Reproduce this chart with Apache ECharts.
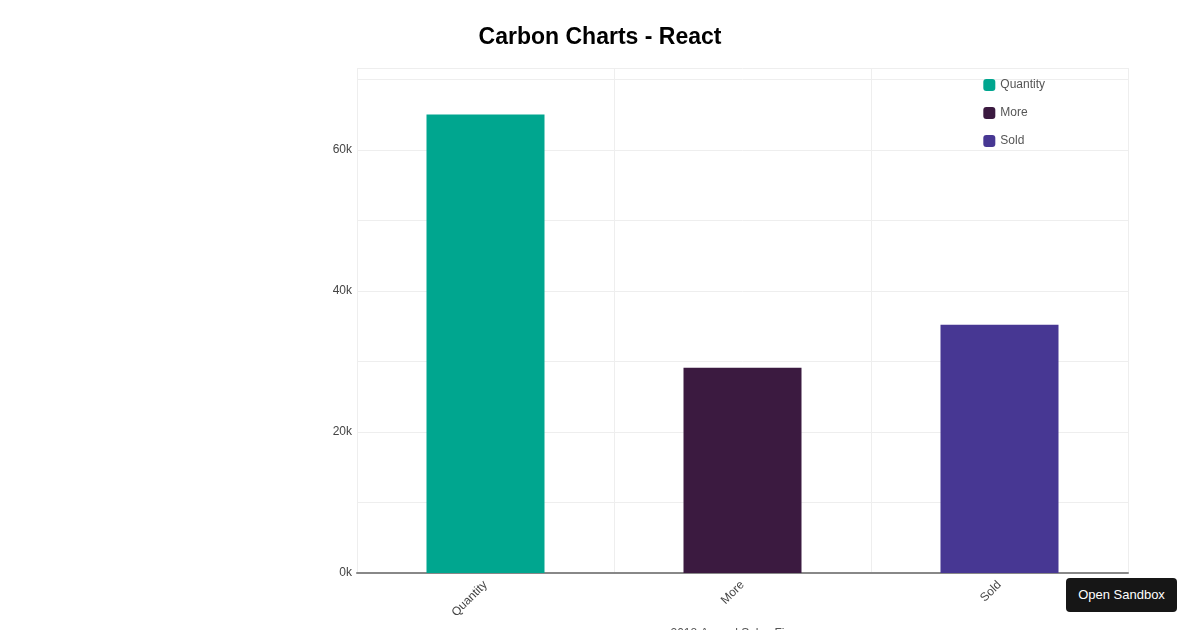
<!DOCTYPE html>
<html>
<head>
<meta charset="utf-8">
<script src="https://cdn.jsdelivr.net/npm/echarts@6/dist/echarts.min.js"></script>
<style>
  html, body { margin: 0; padding: 0; background: #fff; }
  #chart { width: 1200px; height: 630px; }
  #sandbox {
    position: absolute; left: 1066px; top: 578px; width: 111px; height: 34px;
    background: #161616; color: #fff; border-radius: 4px;
    font: 13px "Liberation Sans", Arial, sans-serif; line-height: 34px; text-align: center;
  }
</style>
</head>
<body>
<div id="chart"></div>
<div id="sandbox">Open Sandbox</div>
<script>
const categories = ['Quantity', 'More', 'Sold']
const values = [65000, 29100, 35200]
const colors = ['#00a68f', '#3b1a40', '#473793']

const chart = echarts.init(document.getElementById('chart'))

const series = categories.map((c, i) => ({
  name: c,
  type: 'bar',
  stack: 'all',
  barWidth: 118,
  itemStyle: { color: colors[i] },
  data: categories.map((_, j) => (j === i ? values[i] : null)),
}))

chart.setOption({
  animation: false,
  textStyle: { fontFamily: 'Liberation Sans, Arial, sans-serif' },
  title: {
    text: 'Carbon Charts - React',
    left: 'center',
    top: 21,
    textStyle: { fontSize: 23, fontWeight: 'bold', color: '#000' },
  },
  grid: { left: 357, right: 72, top: 68, bottom: 57, containLabel: false, outerBoundsMode: 'none' },
  legend: {
    orient: 'vertical',
    right: 150,
    top: 74,
    itemWidth: 12,
    itemHeight: 12,
    itemGap: 16,
    icon: 'roundRect',
    textStyle: { fontSize: 12, color: '#555' },
    data: categories,
  },
  xAxis: {
    type: 'category',
    data: categories,
    name: '2018 Annual Sales Figures',
    nameLocation: 'middle',
    nameGap: 55,
    nameTextStyle: { fontSize: 12, color: '#555' },
    axisLine: { lineStyle: { color: '#888', width: 2 } },
    axisTick: { show: false, alignWithLabel: true },
    axisLabel: { rotate: 45, color: '#444', fontSize: 12, margin: 10 },
    splitLine: { show: true, lineStyle: { color: '#eee' } },
    boundaryGap: true,
  },
  yAxis: {
    type: 'value',
    min: 0,
    max: 71600,
    interval: 10000,
    axisLine: { show: false },
    axisTick: { show: false },
    axisLabel: {
      color: '#444', fontSize: 12, margin: 5,
      formatter: v => (v % 20000 === 0 ? v / 1000 + 'k' : ''),
    },
    splitLine: { lineStyle: { color: '#eee' } },
  },
  series,
})
</script>
</body>
</html>
